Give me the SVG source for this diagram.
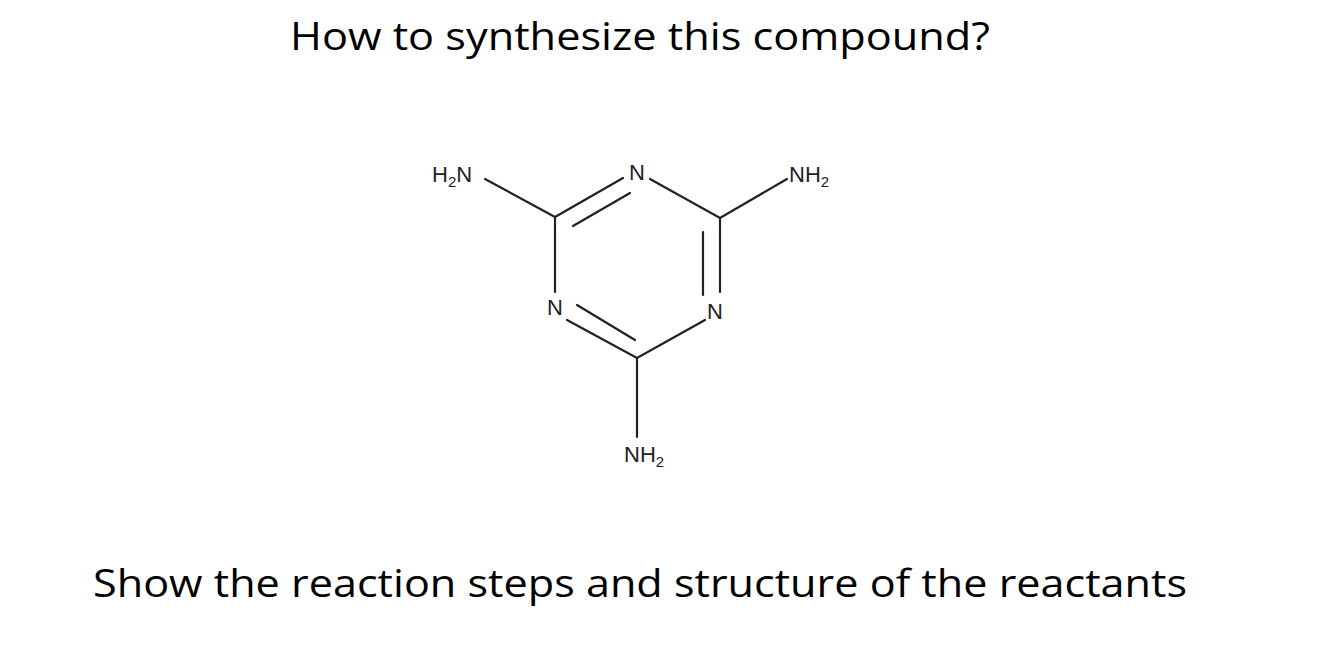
<svg xmlns="http://www.w3.org/2000/svg" width="1344" height="666" viewBox="0 0 1344 666">
<style>
.t{font-family:"Open Sans","Liberation Sans",sans-serif;font-size:38px;fill:#000}
.a{font-family:"Liberation Sans",Arial,sans-serif;font-size:22px;fill:#222}
.s{font-size:15px}
.b{stroke:#222;stroke-width:2.2;fill:none;stroke-linecap:round}
</style>
<rect width="1344" height="666" fill="#fff"/>
<text class="t" x="290" y="50" textLength="700" lengthAdjust="spacingAndGlyphs">How to synthesize this compound?</text>
<text class="t" x="93" y="597" textLength="1094" lengthAdjust="spacingAndGlyphs">Show the reaction steps and structure of the reactants</text>
<g id="bonds" class="b">
<path d="M555,217 L623,178 M573,226 L630,193 M650,179 L720,218 L787,179 M720,218 L720,292 M703,232 L703,295 M705,320 L637,358 L567,320 M635,340 L577,305 M555,217 L555,292 M555,217 L485,179 M637,358 L637,437"/>
</g>
<g id="atoms">
<text class="a" x="637" y="180" text-anchor="middle">N</text>
<text class="a" x="555" y="315" text-anchor="middle">N</text>
<text class="a" x="715" y="319" text-anchor="middle">N</text>
<text class="a" x="432" y="182">H<tspan class="s" dy="5">2</tspan><tspan dy="-5">N</tspan></text>
<text class="a" x="789" y="182">NH<tspan class="s" dy="5">2</tspan></text>
<text class="a" x="624" y="462">NH<tspan class="s" dy="5">2</tspan></text>
</g>
</svg>
